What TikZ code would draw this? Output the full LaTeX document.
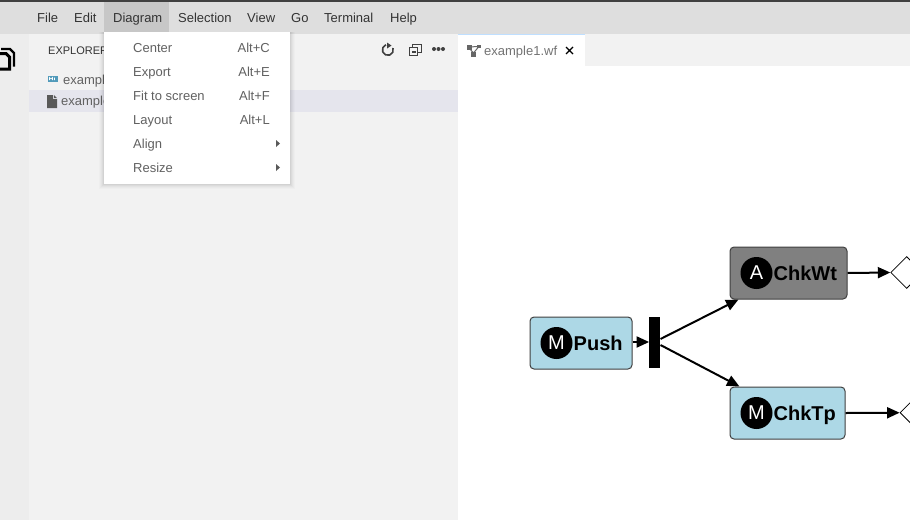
\documentclass[tikz,border=0pt]{standalone}
\usepackage{fontspec}
\setmainfont{Liberation Sans}
\usetikzlibrary{arrows.meta, shapes.geometric}

\tikzset{
  menubar/.style = {anchor=base west, inner sep=0pt, text=black!80, font=\fontsize{13}{15}\selectfont},
  menuitem/.style = {anchor=base west, inner sep=0pt, text=black!62, font=\fontsize{13}{15}\selectfont},
  menukey/.style = {anchor=base east, inner sep=0pt, text=black!62, font=\fontsize{13}{15}\selectfont},
  task/.style = {draw=black!75, line width=1pt, rounded corners=4pt, minimum height=52pt, inner sep=0pt},
  badge/.style = {circle, fill=black, text=white, minimum size=32pt, inner sep=0pt, font=\fontsize{20}{22}\selectfont},
  tasklabel/.style = {anchor=base west, inner sep=0pt, font=\fontsize{20}{22}\selectfont\bfseries},
  flow/.style = {line width=2pt, -{Triangle[length=12.5pt,width=11pt]}},
  gate/.style = {diamond, draw=black, line width=.8pt, fill=white, minimum size=32pt, inner sep=0pt},
  icon/.style = {line width=1.6pt, draw=black!75}
}
\definecolor{taskblue}{HTML}{ADD8E6}
\definecolor{mdblue}{HTML}{519ABA}

\begin{document}
\begin{tikzpicture}[x=1pt, y=-1pt]
\useasboundingbox (0,0) rectangle (910,520);
\clip (0,0) rectangle (910,520);
% workbench
\fill[white] (0,0) rectangle (910,520);
\fill[black!7] (0,34) rectangle (29,520);
\fill[black!5] (29,34) rectangle (458,520);
\fill[black!5] (458,34) rectangle (910,66);
\fill[white] (458,34) rectangle (585,66);
\fill[black!13] (0,0) rectangle (910,34);
\fill[black!75] (0,0) rectangle (910,1.5);
\fill[black!22] (104,2) rectangle (169,32);
\fill[blue!50!cyan!25] (458,34) rectangle (585,35);
\fill[blue!30!black!10] (29,90) rectangle (458,112);
% menu bar
\node[menubar] (file) at (37,22) {File};
\node[menubar] (edit) at (74,22) {Edit};
\node[menubar] (diagram) at (113,22) {Diagram};
\node[menubar] (selection) at (178,22) {Selection};
\node[menubar] (view) at (247,22) {View};
\node[menubar] (go) at (291,22) {Go};
\node[menubar] (terminal) at (324,22) {Terminal};
\node[menubar] (help) at (390,22) {Help};
% side bar
\node[anchor=base west, inner sep=0pt, text=black!80, font=\fontsize{11}{13}\selectfont] (explorer) at (48,54) {EXPLORER};
\node[menuitem] (file1) at (63,84) {example};
\node[menuitem] (file2) at (61,105.5) {example};
\fill[mdblue] (48,76) rectangle (57.5,81.5);
\draw[white, line width=.7pt] (49.5,80) -- (49.5,77.5) -- (51,79) -- (52.5,77.5) -- (52.5,80) (54.5,77.5) -- (54.5,80);
\fill[black!65] (47,95) -- (53,95) -- (53,99) -- (57,99) -- (57,108) -- (47,108) -- cycle;
\fill[black!65] (54,95) -- (57,98) -- (54,98) -- cycle;
\draw[icon, line width=3pt, draw=black] (-2,53.5) -- (6,53.5) -- (9.5,57) -- (9.5,69) -- (-2,69);
\draw[icon, line width=2.4pt, draw=black] (1,49) -- (10,49) -- (14,53) -- (14,66.5);
\draw[icon] (393,48) arc (-20:250:5.5);
\fill[black!75] (387,42.5) -- (391.5,45.5) -- (387,48.5) -- cycle;
\draw[icon, line width=1.8pt] (409.5,47.5) rectangle (417.5,55.5);
\draw[icon, line width=1pt] (412.5,47) -- (412.5,44) -- (421.5,44) -- (421.5,52.5) -- (418,52.5);
\fill[black!75] (411.5,51) rectangle (415.5,52.5);
\foreach \dotx in {434,438.5,443} \fill[black!75] (\dotx,49) circle (2pt);
% menu
\foreach \grow/\fade in {5/.015,4/.02,3/.025,2/.03,1/.04}
  \fill[black, opacity=\fade] (104-\grow,32) rectangle (290+\grow,184+\grow);
\node[fill=white, anchor=north west, minimum width=186pt, minimum height=152pt, inner sep=0pt] (menu) at (104,32) {};
\node[menuitem] (center) at (133,52) {Center};
\node[menuitem] (export) at (133,76) {Export};
\node[menuitem] (fit) at (133,100) {Fit to screen};
\node[menuitem] (layout) at (133,124) {Layout};
\node[menuitem] (align) at (133,148) {Align};
\node[menuitem] (resize) at (133,172) {Resize};
\node[menukey] (keyc) at (270,52) {Alt+C};
\node[menukey] (keye) at (270,76) {Alt+E};
\node[menukey] (keyf) at (270,100) {Alt+F};
\node[menukey] (keyl) at (270,124) {Alt+L};
\foreach \arrowy in {143.5,167.5}
  \fill[black!65] (276,\arrowy-3.5) -- (280,\arrowy) -- (276,\arrowy+3.5) -- cycle;
% tab
\fill[black!60] (466.5,45) rectangle (471.5,50);
\fill[black!60] (477,44.5) rectangle (481,48);
\fill[black!60] (471,51.5) rectangle (476,56.5);
\draw[black!60, line width=1pt] (469,47) -- (478,46.5) (469,48) -- (473.5,53) -- (478.5,47);
\node[anchor=base west, inner sep=0pt, text=black!55, font=\fontsize{13}{15}\selectfont] (tab) at (484,55) {example1.wf};
\draw[black, line width=1.2pt] (566,47) -- (573,54) (573,47) -- (566,54);
% diagram
\node[task, fill=taskblue, minimum width=102pt] (push) at (581,343) {};
\node[task, fill=black!50, minimum width=117pt] (chkwt) at (788.5,273) {};
\node[task, fill=taskblue, minimum width=115pt] (chktp) at (787.5,413) {};
\node[badge] (pushm) at (556.5,343) {M};
\node[badge] (chkwta) at (756.5,273) {A};
\node[badge] (chktpm) at (756.5,413) {M};
\node[tasklabel] (pushlabel) at (573.5,350) {Push};
\node[tasklabel] (chkwtlabel) at (773.5,280) {ChkWt};
\node[tasklabel] (chktplabel) at (773.5,420) {ChkTp};
\node[fill=black, minimum width=11pt, minimum height=51pt, inner sep=0pt] (fork) at (654.8,342) {};
\node[gate] (gatewt) at (906.7,272.5) {};
\node[gate] (gatetp) at (916,412.7) {};
\draw[flow] (push.east |- fork) -- (fork.west);
\draw[flow] ([yshift=3pt]fork.east) -- ([xshift=9pt]chkwt.south west);
\draw[flow] ([yshift=-3pt]fork.east) -- ([xshift=10pt]chktp.north west);
\draw[flow] (chkwt.east) -- (gatewt.west);
\draw[flow] (chktp.east) -- (gatetp.west);
\end{tikzpicture}
\end{document}
